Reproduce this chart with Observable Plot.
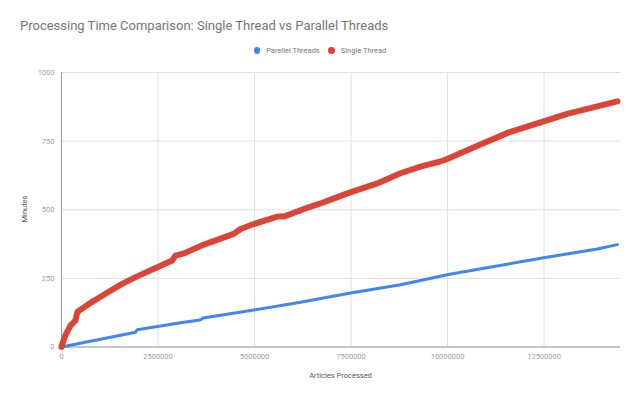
<!DOCTYPE html>
<html>
<head>
<meta charset="utf-8">
<script src="https://cdn.jsdelivr.net/npm/d3@7"></script>
<script src="https://cdn.jsdelivr.net/npm/@observablehq/plot@0.6"></script>
<style>
  html, body { margin: 0; padding: 0; background: #fff; }
  #wrap { position: relative; width: 640px; height: 396px; font-family: Roboto, sans-serif; }
  #chart { position: absolute; left: 0; top: 0; }
  .title { position: absolute; left: 20px; top: 18px; font-size: 13px; line-height: 16px; color: #757575; white-space: nowrap; }
  .legend { position: absolute; left: 0; top: 45px; width: 640px; display: flex; justify-content: center; align-items: center; font-size: 7.5px; line-height: 11px; color: #777; }
  .legend .item { display: flex; align-items: center; margin: 0 4.3px; }
  .legend .dot { width: 6.8px; height: 6.8px; border-radius: 50%; margin-right: 5.7px; }
  .ytitle { position: absolute; left: 23.5px; top: 209px; transform: translate(-50%, -50%) rotate(-90deg); font-size: 7.5px; color: #555; white-space: nowrap; }
  .xtitle { position: absolute; left: 340.5px; top: 375px; transform: translate(-50%, -50%); font-size: 7.5px; color: #555; white-space: nowrap; }
</style>
</head>
<body>
<div id="wrap">
  <div id="chart"></div>
  <div class="title">Processing Time Comparison: Single Thread vs Parallel Threads</div>
  <div class="legend" id="legend"></div>
  <div class="ytitle">Minutes</div>
  <div class="xtitle">Articles Processed</div>
</div>
<script>
// ---- data ----
const seriesNames = ["Parellel Threads", "Single Thread"];
const seriesColors = ["#4285f4", "#db4437"];

const singleArticles = [0, 30000, 100000, 230000, 360000, 410000, 500000, 710000, 1140000, 1570000, 2000000, 2440000, 2870000, 2950000, 3170000, 3690000, 4460000, 4640000, 4980000, 5590000, 5760000, 6280000, 6710000, 6970000, 7500000, 8180000, 8780000, 9300000, 9820000, 9990000, 10850000, 11590000, 12470000, 13100000, 14400000];
const singleMinutes  = [0, 15, 42, 78, 96, 127, 137, 157, 194, 230, 260, 288, 315, 333, 341, 373, 412, 430, 448, 475, 475, 503, 523, 537, 564, 596, 633, 657, 676, 685, 738, 782, 821, 849, 895];

const parallelArticles = [0, 1920000, 1960000, 3170000, 3590000, 3670000, 4980000, 6190000, 7490000, 8780000, 9300000, 9990000, 11200000, 12490000, 13880000, 14400000];
const parallelMinutes  = [0, 54, 63, 90, 98, 106, 135, 163, 197, 227, 242, 263, 293, 325, 357, 373];

const xTicks = [0, 2500000, 5000000, 7500000, 10000000, 12500000];
const yTicks = [0, 250, 500, 750, 1000];

// ---- build tables ----
const single = singleArticles.map((a, i) => ({articles: a, minutes: singleMinutes[i]}));
const parallel = parallelArticles.map((a, i) => ({articles: a, minutes: parallelMinutes[i]}));
const fmt = d3.format("d");

const chart = Plot.plot({
  width: 640,
  height: 396,
  marginLeft: 61,
  marginRight: 20,
  marginTop: 72,
  marginBottom: 49.5,
  style: {fontFamily: "Roboto, sans-serif", fontSize: "7.5px", background: "white", color: "#9e9e9e"},
  x: {domain: [0, 14480000]},
  y: {domain: [0, 1000]},
  marks: [
    Plot.gridY(yTicks, {stroke: "#e0e0e0", strokeOpacity: 1}),
    Plot.gridX(xTicks, {stroke: "#e0e0e0", strokeOpacity: 1}),
    Plot.axisY(yTicks, {tickSize: 0, tickPadding: 7, tickFormat: fmt, label: null, fill: "#9e9e9e"}),
    Plot.axisX(xTicks, {tickSize: 0, tickPadding: 7, tickFormat: fmt, label: null, fill: "#9e9e9e"}),
    Plot.ruleX([0], {stroke: "#9a9a9a"}),
    Plot.ruleY([0], {stroke: "#9a9a9a"}),
    Plot.line(parallel, {x: "articles", y: "minutes", stroke: seriesColors[0], strokeWidth: 3, strokeLinecap: "round", strokeLinejoin: "round"}),
    Plot.line(single, {x: "articles", y: "minutes", stroke: seriesColors[1], strokeWidth: 6, strokeLinecap: "round", strokeLinejoin: "round"})
  ]
});
document.getElementById("chart").appendChild(chart);

// ---- legend ----
const legend = document.getElementById("legend");
seriesNames.forEach((name, i) => {
  const item = document.createElement("div");
  item.className = "item";
  const dot = document.createElement("span");
  dot.className = "dot";
  dot.style.background = seriesColors[i];
  const label = document.createElement("span");
  label.textContent = name;
  item.appendChild(dot);
  item.appendChild(label);
  legend.appendChild(item);
});
</script>
</body>
</html>
